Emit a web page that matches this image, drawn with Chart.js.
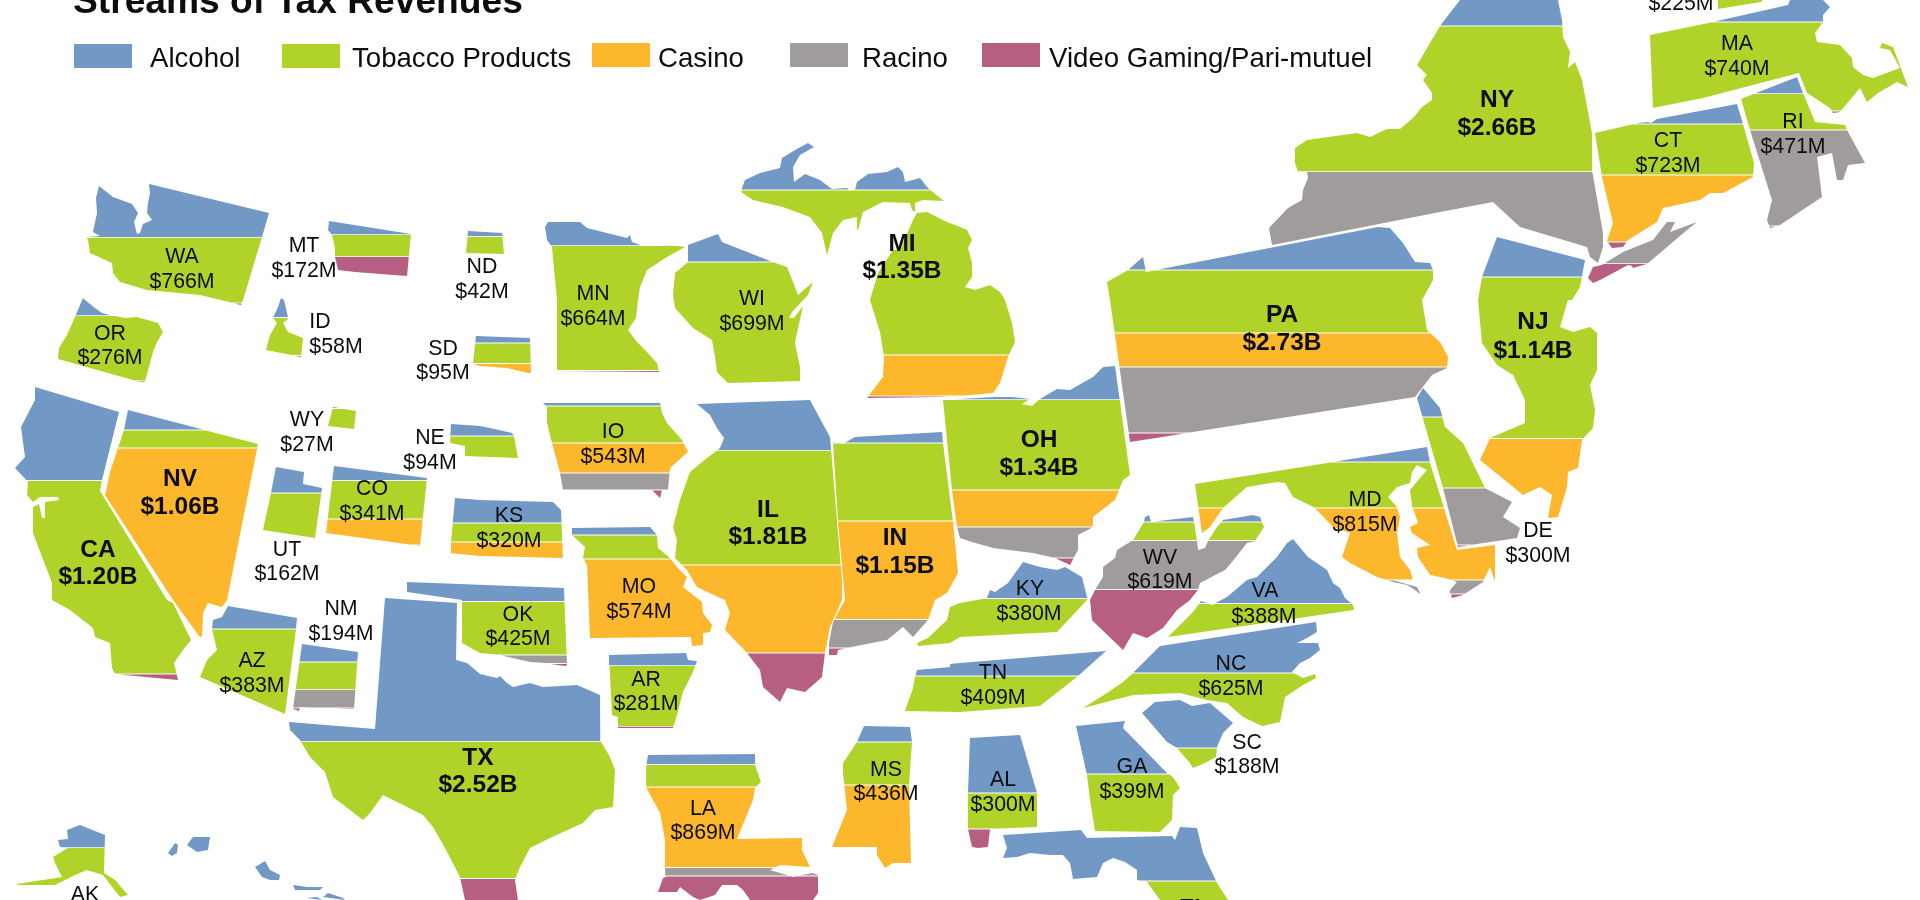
<!DOCTYPE html>
<html>
<head>
<meta charset="utf-8">
<title>Streams of Tax Revenues</title>
<script src="https://cdn.jsdelivr.net/npm/chart.js@4"></script>
<style>
  html, body { margin: 0; background: #fff; overflow: hidden; }
  canvas { display: block; }
</style>
</head>
<body>
<canvas id="chart" width="1920" height="900"></canvas>
<script>
// revenue streams, in stacking order
const STREAMS = ['Alcohol', 'Tobacco Products', 'Casino', 'Racino', 'Video Gaming/Pari-mutuel']
const STREAM_COLORS = ['#7299c6', '#afd329', '#fdb72d', '#a09c9b', '#b65f82']

const stateCodes = ['WA','MT','ND','SD','MN','WI','MI','OR','ID','WY','NV','CA','UT','CO','NE','KS','OK','TX','AZ','NM','AR','MO','IO','IL','IN','OH','PA','NY','NJ','DE','MD','WV','KY','VA','TN','NC','SC','GA','AL','MS','LA','FL','CT','RI','MA','NH','AK','HI']
const stateTotals = ['$766M','$172M','$42M','$95M','$664M','$699M','$1.35B','$276M','$58M','$27M','$1.06B','$1.20B','$162M','$341M','$94M','$320M','$425M','$2.52B','$383M','$194M','$281M','$574M','$543M','$1.81B','$1.15B','$1.34B','$2.73B','$2.66B','$1.14B','$300M','$815M','$619M','$380M','$388M','$409M','$625M','$188M','$399M','$300M','$436M','$869M','','$723M','$471M','$740M','$225M','','']

// state outlines on the map grid, one list per land part
const waShape = [[[149,184],[269,213],[262,237],[243,300],[241,305],[200,295],[147,290],[120,282],[113,273],[112,263],[90,253],[88,240],[86,237],[100,236],[93,232],[97,213],[96,198],[99,186],[113,197],[132,204],[138,213],[134,222],[137,234],[140,233],[143,224],[152,220],[147,213],[148,203],[150,193]]]
const mtShape = [[[329,221],[411,234],[407,276],[355,272],[338,270],[335,257],[335,248],[332,235],[328,230]]]
const ndShape = [[[468,231],[502,233],[504,254],[466,253]]]
const sdShape = [[[476,336],[530,338],[531,373],[528,373],[507,368],[480,366],[473,364]]]
const mnShape = [[[545,227],[548,222],[580,222],[587,228],[627,238],[630,235],[632,242],[643,246],[672,245],[685,247],[667,257],[647,270],[640,287],[638,300],[636,318],[628,330],[637,342],[645,350],[657,363],[659,372],[557,371],[557,300],[552,247],[547,240]]]
const wiShape = [[[688,245],[718,234],[722,242],[770,261],[787,267],[795,287],[798,295],[813,282],[808,295],[792,312],[789,318],[794,318],[803,306],[797,333],[795,343],[800,367],[800,381],[728,383],[717,372],[715,357],[712,340],[693,328],[675,308],[673,295],[675,273],[688,262]]]
const miShape = [
  [[742,188],[745,180],[760,173],[780,168],[782,158],[795,150],[808,143],[814,147],[800,155],[793,167],[794,182],[805,174],[820,180],[832,189],[847,188],[850,191],[855,190],[857,182],[868,174],[887,172],[898,167],[903,172],[905,182],[920,178],[928,188],[944,201],[923,200],[915,203],[915,212],[912,210],[910,203],[883,202],[863,212],[858,230],[857,229],[857,217],[843,220],[833,233],[827,255],[822,233],[810,217],[783,207],[753,200],[741,192]],
  [[917,213],[927,212],[947,222],[960,227],[967,230],[972,240],[968,248],[972,263],[972,277],[965,287],[975,290],[990,285],[1000,292],[1005,300],[1012,323],[1015,342],[1008,357],[1000,383],[993,393],[960,396],[937,397],[867,398],[883,377],[884,357],[880,332],[870,300],[878,273],[893,250],[900,250],[910,227],[913,220]]
]
const orShape = [[[83,298],[85,300],[95,308],[102,313],[110,315],[125,318],[137,317],[158,323],[163,332],[157,342],[153,352],[145,382],[140,382],[58,359],[59,348],[67,335],[75,317]]]
const idShape = [[[281,298],[284,300],[288,317],[288,319],[283,323],[288,332],[303,338],[301,357],[266,350],[270,335],[277,323],[273,318],[278,307]]]
const wyShape = [[[333,407],[356,411],[354,429],[328,426]]]
const nvShape = [[[128,410],[258,444],[227,600],[222,607],[208,603],[203,613],[202,637],[199,636],[173,600],[105,495],[107,487],[110,472],[124,430]]]
const caShape = [[[35,387],[119,412],[102,480],[100,491],[167,600],[173,603],[191,640],[183,650],[174,663],[178,680],[115,674],[112,668],[110,643],[95,637],[93,628],[70,610],[52,600],[52,583],[33,533],[33,507],[39,504],[42,518],[45,518],[45,502],[59,500],[58,497],[40,497],[33,502],[27,495],[28,482],[15,468],[25,457],[21,427],[35,400]]]
const utShape = [[[276,467],[304,472],[303,484],[322,488],[315,538],[263,530],[271,493]]]
const coShape = [[[334,466],[427,478],[420,546],[326,533]]]
const neShape = [[[451,424],[480,426],[490,428],[512,433],[514,436],[518,458],[465,456],[465,446],[450,443]]]
const ksShape = [[[455,498],[480,500],[553,502],[561,510],[563,558],[480,556],[450,553]]]
const okShape = [[[407,582],[564,588],[567,665],[565,666],[545,663],[530,662],[500,655],[480,653],[462,643],[462,600],[407,592]]]
const txShape = [[[385,598],[457,603],[456,660],[467,663],[480,674],[497,678],[500,676],[507,683],[513,687],[530,683],[543,687],[577,685],[600,695],[600,740],[610,757],[615,770],[613,807],[595,810],[583,823],[550,838],[530,848],[520,867],[515,880],[518,900],[465,900],[460,877],[445,848],[433,827],[423,815],[383,795],[370,813],[363,820],[333,797],[325,772],[310,757],[300,740],[290,730],[289,722],[375,729]]]
const azShape = [[[228,606],[297,618],[296,629],[285,714],[200,677],[207,660],[217,650],[212,629],[213,620],[222,617]]]
const nmShape = [[[302,644],[358,652],[354,709],[319,708],[300,707],[299,711],[293,709]]]
const arShape = [[[609,655],[686,653],[688,660],[697,661],[693,672],[683,692],[677,715],[673,728],[618,728],[618,717],[612,715]]]
const moShape = [[[572,528],[650,527],[657,535],[658,548],[670,558],[677,567],[687,577],[683,587],[697,598],[702,602],[703,613],[712,625],[710,632],[703,633],[703,645],[692,646],[691,637],[590,638],[587,565],[583,558],[585,547],[572,535]]]
const ioShape = [[[543,403],[660,403],[662,413],[667,423],[682,440],[688,452],[670,468],[668,490],[662,490],[660,498],[652,490],[563,490],[560,473],[552,443],[547,423],[547,407]]]
const ilShape = [[[697,404],[810,400],[830,437],[842,580],[842,600],[830,627],[825,653],[822,677],[805,692],[787,688],[780,702],[763,687],[760,670],[747,653],[725,630],[730,613],[725,600],[720,598],[697,587],[687,570],[675,558],[677,540],[673,527],[680,500],[690,472],[702,462],[720,448],[724,438],[717,428],[710,415]]]
const inShape = [[[833,442],[843,444],[855,437],[942,432],[943,443],[953,522],[958,573],[947,593],[935,600],[928,620],[913,637],[903,627],[887,640],[847,648],[838,650],[837,655],[829,655],[829,643],[833,622],[845,600],[838,522]]]
const ohShape = [[[943,400],[960,399],[993,397],[1012,397],[1030,399],[1022,404],[1032,406],[1040,399],[1057,389],[1070,390],[1093,377],[1103,367],[1115,366],[1130,475],[1123,480],[1115,500],[1093,517],[1093,527],[1078,535],[1078,550],[1070,565],[1055,558],[1033,553],[993,548],[972,542],[960,538],[957,527],[952,490]]]
const paShape = [[[1128,270],[1143,257],[1146,272],[1378,227],[1390,228],[1403,243],[1415,262],[1430,263],[1433,270],[1433,280],[1422,300],[1427,330],[1440,342],[1448,357],[1447,368],[1432,375],[1422,388],[1415,397],[1130,442],[1110,300],[1107,282]]]
const nyShape = [
  [[1440,26],[1460,0],[1558,0],[1562,20],[1563,37],[1570,52],[1568,68],[1575,62],[1582,80],[1592,133],[1592,170],[1603,233],[1603,247],[1598,263],[1590,257],[1587,247],[1520,227],[1493,202],[1440,212],[1272,245],[1269,228],[1288,208],[1302,200],[1303,190],[1308,178],[1307,172],[1298,172],[1295,163],[1295,148],[1307,140],[1357,133],[1370,137],[1387,129],[1400,129],[1413,118],[1422,107],[1432,100],[1432,93],[1423,80],[1427,75],[1417,65],[1430,43]],
  [[1605,263],[1623,252],[1653,240],[1667,222],[1675,222],[1670,232],[1697,222],[1687,230],[1660,253],[1647,264],[1633,268],[1632,266],[1628,265],[1600,280],[1593,283],[1588,278],[1593,267],[1602,265]]
]
const njShape = [[[1497,237],[1585,260],[1580,287],[1572,300],[1568,300],[1560,327],[1573,332],[1590,327],[1597,333],[1597,370],[1590,385],[1595,410],[1593,428],[1582,440],[1578,468],[1568,472],[1567,487],[1558,517],[1548,518],[1552,495],[1540,487],[1523,495],[1480,460],[1490,438],[1525,423],[1525,400],[1513,375],[1497,365],[1482,343],[1478,300],[1482,277]]]
const deShape = [[[1423,388],[1440,408],[1445,427],[1463,443],[1485,488],[1512,502],[1503,517],[1520,528],[1517,538],[1458,547],[1443,488],[1417,398]]]
const mdShape = [[[1195,484],[1427,447],[1430,463],[1457,550],[1495,545],[1495,582],[1490,567],[1483,582],[1463,595],[1452,598],[1450,590],[1457,582],[1445,578],[1430,575],[1418,557],[1417,548],[1430,545],[1412,533],[1410,527],[1418,523],[1412,505],[1410,490],[1420,478],[1427,470],[1417,465],[1412,472],[1410,483],[1397,487],[1388,497],[1397,507],[1400,517],[1397,533],[1400,557],[1410,570],[1413,580],[1393,580],[1417,587],[1421,595],[1415,590],[1407,585],[1393,582],[1377,577],[1350,563],[1342,557],[1350,533],[1333,527],[1315,508],[1293,497],[1285,483],[1277,482],[1247,487],[1223,508],[1210,527],[1202,533]]]
const wvShape = [[[1144,522],[1145,517],[1149,515],[1151,522],[1193,517],[1194,522],[1197,540],[1198,550],[1205,548],[1208,541],[1217,527],[1223,520],[1253,515],[1260,517],[1264,527],[1255,541],[1247,543],[1232,562],[1225,570],[1200,583],[1198,590],[1190,600],[1177,610],[1163,628],[1147,638],[1133,633],[1123,650],[1097,625],[1092,620],[1090,600],[1095,590],[1103,577],[1103,567],[1115,558],[1117,550],[1133,540]]]
const kyShape = [[[987,598],[990,590],[995,592],[1008,583],[1023,562],[1040,567],[1057,570],[1065,567],[1082,577],[1087,597],[1087,600],[1057,632],[960,637],[950,643],[918,646],[917,643],[928,638],[947,620],[950,607],[960,603]]]
const vaShape = [[[1293,539],[1308,557],[1327,570],[1333,583],[1340,588],[1345,598],[1353,605],[1354,610],[1168,637],[1193,612],[1201,601],[1212,605],[1227,597],[1247,580],[1257,577],[1277,557],[1287,543]]]
const tnShape = [[[917,670],[950,667],[950,664],[960,663],[1106,651],[1077,677],[1040,706],[960,712],[905,711],[913,688],[915,677]]]
const ncShape = [[[1160,646],[1316,622],[1317,632],[1307,638],[1297,643],[1307,643],[1318,643],[1320,650],[1310,658],[1300,663],[1292,672],[1303,678],[1315,674],[1316,678],[1303,685],[1285,697],[1280,722],[1262,726],[1243,717],[1227,703],[1207,700],[1180,693],[1133,695],[1083,708],[1107,693],[1123,682],[1133,673]]]
const scShape = [[[1142,713],[1155,702],[1180,700],[1192,706],[1210,703],[1233,723],[1223,733],[1217,747],[1216,757],[1205,763],[1193,768],[1190,763],[1177,748],[1167,742]]]
const gaShape = [[[1076,726],[1125,721],[1123,728],[1167,773],[1173,777],[1180,788],[1173,795],[1172,820],[1160,832],[1095,831],[1090,800],[1087,775]]]
const alShape = [[[970,738],[1020,735],[1037,793],[1037,827],[990,829],[988,847],[978,848],[972,847],[968,829],[968,793]]]
const msShape = [[[864,726],[910,727],[912,742],[909,785],[911,863],[893,863],[885,868],[877,855],[877,847],[832,847],[847,810],[843,773],[843,763],[857,742]]]
const laShape = [[[648,755],[755,754],[755,765],[761,782],[755,788],[753,800],[737,839],[802,838],[802,850],[810,867],[780,865],[770,870],[793,877],[812,873],[818,875],[818,893],[813,900],[750,900],[743,890],[737,885],[722,885],[715,895],[700,900],[693,897],[680,887],[677,892],[658,892],[663,878],[666,877],[665,867],[665,840],[660,813],[646,787],[646,767]]]
const flShape = [[[1003,835],[1081,830],[1087,838],[1172,836],[1175,840],[1180,827],[1197,828],[1203,853],[1217,883],[1228,900],[1160,900],[1147,882],[1137,880],[1137,870],[1125,862],[1113,858],[1103,863],[1097,877],[1073,879],[1070,863],[1063,855],[1050,855],[1030,853],[1017,857],[1003,858],[1007,848]]]
const ctShape = [[[1595,133],[1638,123],[1648,122],[1651,123],[1657,119],[1737,104],[1743,124],[1754,163],[1753,177],[1723,193],[1710,193],[1700,200],[1663,208],[1657,222],[1628,240],[1623,247],[1612,248],[1607,241],[1613,223],[1602,177]]]
const riShape = [[[1741,99],[1797,77],[1803,93],[1815,122],[1845,125],[1847,130],[1865,163],[1848,165],[1843,180],[1837,180],[1832,153],[1817,157],[1822,197],[1807,207],[1780,225],[1770,228],[1767,220],[1772,200],[1750,130]]]
const maShape = [[[1713,22],[1788,5],[1790,0],[1823,0],[1830,7],[1823,15],[1823,22],[1815,33],[1817,42],[1840,45],[1852,58],[1853,67],[1863,75],[1873,78],[1900,68],[1890,50],[1880,48],[1882,43],[1893,47],[1908,87],[1897,82],[1878,93],[1867,102],[1860,88],[1840,112],[1833,113],[1830,108],[1807,93],[1799,73],[1703,98],[1653,108],[1650,35]]]
const nhShape = [[[1718,0],[1763,0],[1761,2],[1724,8],[1718,9]]]
const akShape = [[[67,830],[80,825],[105,835],[104,873],[115,880],[128,895],[120,897],[103,875],[87,870],[75,875],[55,885],[17,885],[17,884],[62,877],[55,863],[53,857],[68,848],[60,847],[58,840],[68,839]]]
const hiShape = [
  [[168,853],[175,843],[178,845],[177,853],[172,856]],
  [[187,845],[193,837],[210,837],[208,850],[197,852]],
  [[255,867],[265,861],[270,870],[280,875],[279,880],[270,880],[262,877]],
  [[293,885],[307,887],[323,887],[320,890],[302,890],[295,890]],
  [[307,898],[317,897],[322,900]],
  [[323,897],[328,893],[343,898],[345,900]]
]

const stateShapes = [waShape,mtShape,ndShape,sdShape,mnShape,wiShape,miShape,orShape,idShape,wyShape,nvShape,caShape,utShape,coShape,neShape,ksShape,okShape,txShape,azShape,nmShape,arShape,moShape,ioShape,ilShape,inShape,ohShape,paShape,nyShape,njShape,deShape,mdShape,wvShape,kyShape,vaShape,tnShape,ncShape,scShape,gaShape,alShape,msShape,laShape,flShape,ctShape,riShape,maShape,nhShape,akShape,hiShape]

const stateBands = [
  [[0,237.3],[1,303],[4,999]], [[0,234.7],[1,256.7],[4,999]], [[0,236.5],[1,999]], [[0,343],[1,363.5],[2,999]],
  [[0,245.7],[1,370.5],[4,999]], [[0,262],[1,999]], [[0,190],[1,355],[2,396],[4,999]], [[0,315.7],[1,381],[4,999]],
  [[0,317.5],[1,355.5],[4,999]], [[0,408.5],[1,999]], [[0,430],[1,448],[2,999]], [[0,480.5],[1,674],[4,999]],
  [[0,493],[1,999]], [[0,480.5],[1,519],[2,545],[4,999]], [[0,436],[1,999]], [[0,523],[1,542],[2,999]],
  [[0,601.5],[1,655],[3,663.5],[4,999]], [[0,741.3],[1,878.5],[4,999]], [[0,629],[1,999]], [[0,662],[1,689.7],[3,708],[4,999]],
  [[0,665.7],[1,726.3],[4,999]], [[0,535],[1,559],[2,999]], [[0,406],[1,443],[2,473],[3,490],[4,999]], [[0,450.3],[1,565],[2,653],[4,999]],
  [[0,443],[1,521],[2,619.5],[3,648],[4,999]], [[0,399.7],[1,490],[2,527],[3,558],[4,999]], [[0,270],[1,333],[2,367],[3,433],[4,999]], [[0,26],[1,171.7],[3,263.7],[4,999]],
  [[0,277],[1,438.5],[2,999]], [[0,417],[1,488],[3,545],[4,999]], [[0,462],[1,508],[2,580],[3,594],[4,999]], [[0,522],[1,540.5],[3,589.5],[4,999]],
  [[0,598.5],[1,999]], [[0,603.5],[1,999]], [[0,676],[1,999]], [[0,673],[1,999]],
  [[0,748],[1,999]], [[0,774],[1,999]], [[0,793],[1,829],[4,999]], [[0,742],[1,785],[2,999]],
  [[0,764.5],[1,787],[2,867.5],[3,876],[4,999]], [[0,881],[1,999]], [[0,124],[1,175],[2,242],[4,999]], [[0,93.7],[1,130],[3,226],[4,999]],
  [[0,22],[1,111],[4,999]], [[1,999]], [[0,847.7],[1,999]], [[0,999]]
]

// where each label sits: [code x, code baseline, total x, total baseline]
const labelAnchors = [
  [182,263,182,288],[304,252,304,277],[482,273,482,298],[443,355,443,379],[593,300,593,325],[752,305,752,330],[902,251,902,278],[110,340,110,364],
  [320,328,336,353],[307,426,307,451],[180,486,180,514],[98,557,98,584],[287,556,287,580],[372,495,372,520],[430,444,430,469],[509,522,509,547],
  [518,621,518,645],[478,765,478,792],[252,667,252,692],[341,615,341,640],[646,686,646,710],[639,593,639,618],[613,438,613,463],[768,517,768,544],
  [895,545,895,573],[1039,447,1039,475],[1282,322,1282,350],[1497,107,1497,135],[1533,329,1533,358],[1538,537,1538,562],[1365,506,1365,531],[1160,564,1160,588],
  [1030,595,1029,620],[1265,597,1264,623],[993,679,993,704],[1231,670,1231,695],[1247,749,1247,773],[1132,773,1132,798],[1003,786,1003,811],[886,776,886,800],
  [703,815,703,839],[1194,916,1194,943],[1668,147,1668,172],[1793,128,1793,153],[1737,50,1737,75],[1681,-15,1681,10],[85,901,85,926],[0,0,0,0]
]

const BOLD_STATES = ['MI','NV','CA','TX','IL','IN','OH','PA','NY','NJ','FL']

// legend positions
const legendSwatchX = [74,282,592,790,982]
const legendSwatchY = [44,44,43,43,43]
const legendTextX = [150,352,658,862,1049]

// cut a polygon down to one side of a horizontal line
const clipAbove = (pts, y, keepBelow) => {
  const inside = p => (keepBelow ? p[1] >= y : p[1] <= y)
  const out = []
  pts.forEach((p, i) => {
    const q = pts[(i + 1) % pts.length]
    if (inside(p)) out.push(p)
    if (inside(p) !== inside(q)) {
      const t = (y - p[1]) / (q[1] - p[1])
      out.push([p[0] + t * (q[0] - p[0]), y])
    }
  })
  return out
}

const buildDatasets = () => {
  const datasets = []
  stateCodes.forEach((code, s) => {
    let top = -999
    stateBands[s].forEach(([stream, bottom]) => {
      stateShapes[s].forEach(part => {
        const piece = clipAbove(clipAbove(part, top + 0.4, true), bottom - 0.4, false)
        if (piece.length < 3) return
        const data = piece.concat([piece[0]]).map(p => ({ x: p[0], y: p[1] }))
        datasets.push({
          label: code + ' ' + STREAMS[stream],
          data,
          showLine: true,
          fill: 'shape',
          tension: 0,
          backgroundColor: STREAM_COLORS[stream],
          borderWidth: 0,
          pointRadius: 0,
          pointHoverRadius: 0,
        })
      })
      top = bottom
    })
  })
  return datasets
}

// title, legend and state labels are plain canvas text on top of the map
const textPlugin = {
  id: 'mapText',
  afterDatasetsDraw(chart) {
    const { ctx, scales } = chart
    const px = scales.x.getPixelForValue.bind(scales.x)
    const py = scales.y.getPixelForValue.bind(scales.y)
    ctx.save()
    ctx.fillStyle = '#0d0d0d'
    ctx.textBaseline = 'alphabetic'

    ctx.textAlign = 'left'
    ctx.font = 'bold 37.2px "Liberation Sans"'
    ctx.fillText('Streams of Tax Revenues', px(73), py(13))

    ctx.font = '27.6px "Liberation Sans"'
    STREAMS.forEach((name, i) => {
      ctx.fillStyle = STREAM_COLORS[i]
      ctx.fillRect(px(legendSwatchX[i]), py(legendSwatchY[i]), 58, 24)
      ctx.fillStyle = '#0d0d0d'
      ctx.fillText(name, px(legendTextX[i]), py(66.5))
    })

    ctx.textAlign = 'center'
    stateCodes.forEach((code, s) => {
      if (code === 'HI') return
      ctx.font = BOLD_STATES.includes(code) ? 'bold 24.5px "Liberation Sans"' : '21.3px "Liberation Sans"'
      const [cx, cy, tx, ty] = labelAnchors[s]
      ctx.fillText(code, px(cx), py(cy))
      if (stateTotals[s]) ctx.fillText(stateTotals[s], px(tx), py(ty))
    })
    ctx.restore()
  },
}

new Chart(document.querySelector('#chart').getContext('2d'), {
  type: 'scatter',
  data: { datasets: buildDatasets() },
  plugins: [textPlugin],
  options: {
    responsive: false,
    animation: false,
    events: [],
    devicePixelRatio: 1,
    layout: { padding: 0 },
    plugins: { legend: { display: false }, tooltip: { enabled: false }, title: { display: false } },
    scales: {
      x: { type: 'linear', min: 0, max: 1920, display: false },
      y: { type: 'linear', min: 0, max: 900, reverse: true, display: false },
    },
  },
})
</script>
</body>
</html>
